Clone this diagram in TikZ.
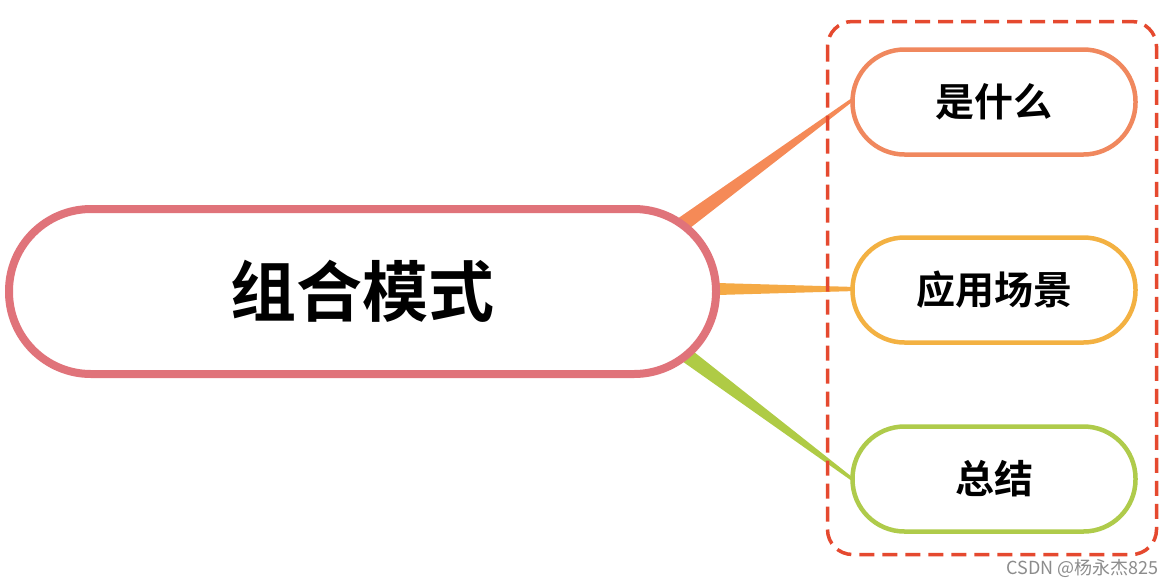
\documentclass[tikz,border=0pt]{standalone}
\usepackage{fontspec}
\newfontfamily\cjk{Noto Sans CJK SC}
\newfontfamily\cjkb{Noto Sans CJK SC Bold}
\usetikzlibrary{calc}
\definecolor{mainc}{HTML}{E0737A}
\definecolor{c1}{HTML}{F0885E}
\definecolor{c2}{HTML}{F3B142}
\definecolor{c3}{HTML}{AFCB4B}
\definecolor{l1}{HTML}{F58A57}
\definecolor{l2}{HTML}{F5AA45}
\definecolor{l3}{HTML}{AFCB45}
\definecolor{dashc}{HTML}{E5492F}
\tikzset{
  mainbox/.style={draw=mainc, line width=8pt, fill=white, inner sep=0pt,
    minimum width=707pt, minimum height=165pt, rounded corners=82pt,
    font=\cjkb\fontsize{66}{72}\selectfont},
  childbox/.style={line width=4.5pt, fill=white, inner sep=0pt,
    minimum width=283pt, minimum height=105pt, rounded corners=52pt,
    font=\cjkb\fontsize{39}{44}\selectfont},
  groupbox/.style={draw=dashc, line width=3.5pt, dash pattern=on 15pt off 8pt,
    rounded corners=25pt},
}
\newcommand{\taper}[5]{% color, from, to, wide half, narrow half
  \fill[#1] ($(#2)!#4!90:(#3)$) -- ($(#3)!#5!-90:(#2)$) -- ($(#3)!#5!90:(#2)$) -- ($(#2)!#4!-90:(#3)$) -- cycle;}
\begin{document}
\begin{tikzpicture}[x=1pt,y=1pt]
\useasboundingbox[fill=white] (0,0) rectangle (1174,-587);
% anchor points for connectors
\coordinate (s1) at (668,-235);
\coordinate (e1) at (856,-97);
\coordinate (s2) at (700,-289);
\coordinate (e2) at (856,-289);
\coordinate (s3) at (666,-340);
\coordinate (e3) at (856,-482);
\taper{l1}{s1}{e1}{8pt}{1.5pt}
\taper{l2}{s2}{e2}{6.5pt}{2pt}
\taper{l3}{s3}{e3}{8pt}{1.5pt}
\node[mainbox] (main) at (362.5,-291.5) {\raisebox{3pt}{组合模式}};
\node[childbox, draw=c1] (n1) at (994,-102) {是什么};
\node[childbox, draw=c2] (n2) at (994,-290) {应用场景};
\node[childbox, draw=c3] (n3) at (994,-479) {总结};
\draw[groupbox] (827.5,-21.5) rectangle (1156.5,-554.5);
\node[font=\cjk\fontsize{18}{20}\selectfont, text=black!45, anchor=east, inner sep=0pt] (wm) at (1159,-568) {CSDN @杨永杰825};
\end{tikzpicture}
\end{document}
